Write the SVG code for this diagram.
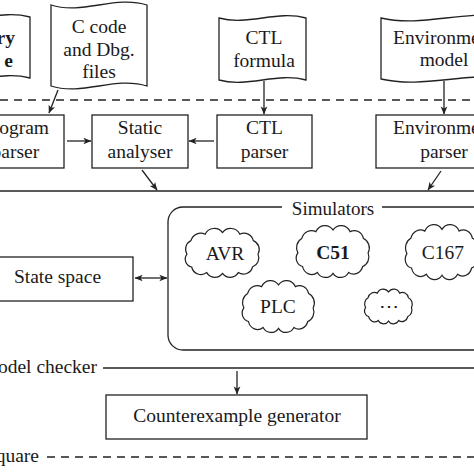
<svg xmlns="http://www.w3.org/2000/svg" width="474" height="474" viewBox="0 0 474 474">
<style>
  .sh{fill:#fff;stroke:#222;stroke-width:1.3}
  .ln{fill:none;stroke:#222;stroke-width:1.3}
  .dash{fill:none;stroke:#222;stroke-width:1.3;stroke-dasharray:8 6}
  .ar{fill:none;stroke:#222;stroke-width:1.3;marker-end:url(#ah)}
  .cl{fill:#fff;stroke:#222;stroke-width:1.2}
  text{font-family:"Liberation Serif","Times New Roman",serif;font-size:19.5px;fill:#1a1a1a;text-anchor:middle}
  .b{font-weight:bold}
</style>
<defs>
  <marker id="ah" viewBox="0 0 10 10" refX="9.5" refY="5" markerWidth="9" markerHeight="8" orient="auto-start-reverse" markerUnits="userSpaceOnUse">
    <path d="M0,0.8 L10,5 L0,9.2 L2.5,5 Z" fill="#222"/>
  </marker>
</defs>
<rect width="474" height="474" fill="#fff"/>

<g id="sections">
  <line class="dash" x1="0" y1="100" x2="474" y2="100"/>
  <line class="ln" x1="0" y1="191" x2="474" y2="191"/>
  <text x="97" y="373" style="text-anchor:end">Model checker</text>
  <line class="ln" x1="103" y1="368" x2="474" y2="368"/>
  <text x="39" y="462" style="text-anchor:end">[mc]square</text>
  <line class="dash" x1="47" y1="457" x2="474" y2="457"/>
</g>

<g id="doc-binary">
  <path class="sh" d="M -60,17 C -30,25 0,9 30,17 L 30,78 C 0,70 -30,86 -60,78 Z"/>
  <text class="b" x="15" y="44" style="text-anchor:end">ry</text>
  <text class="b" x="13" y="67" style="text-anchor:end">e</text>
</g>
<g id="doc-ccode">
  <path class="sh" d="M 51,5 C 83,15 115,-5 147,5 L 147,86 C 115,76 83,96 51,86 Z"/>
  <text x="99" y="33">C code</text>
  <text x="99" y="56">and Dbg.</text>
  <text x="99" y="78">files</text>
</g>
<g id="doc-ctl">
  <path class="sh" d="M 219,18 C 248,26 277,10 306,18 L 306,80 C 277,72 248,88 219,80 Z"/>
  <text x="264" y="44">CTL</text>
  <text x="264" y="67">formula</text>
</g>
<g id="doc-env">
  <path class="sh" d="M 381,18 C 424,28 468,8 511,18 L 511,79 C 468,71 424,89 381,79 Z"/>
  <text x="444" y="44">Environment</text>
  <text x="444" y="66">model</text>
</g>

<g id="program-parser">
  <rect class="sh" x="-33" y="115" width="97" height="53"/>
  <text x="15.4" y="134">Program</text>
  <text x="15.4" y="158">parser</text>
</g>
<g id="static-analyser">
  <rect class="sh" x="92" y="115" width="96" height="53"/>
  <text x="140" y="134">Static</text>
  <text x="140" y="158">analyser</text>
</g>
<g id="ctl-parser">
  <rect class="sh" x="217" y="115" width="95" height="53"/>
  <text x="264.5" y="134">CTL</text>
  <text x="264.5" y="158">parser</text>
</g>
<g id="env-parser">
  <rect class="sh" x="376" y="115" width="136" height="53"/>
  <text x="444" y="134">Environment</text>
  <text x="444" y="158">parser</text>
</g>

<g id="state-space">
  <rect class="sh" x="-18" y="257" width="151" height="44"/>
  <text x="57.5" y="283">State space</text>
</g>

<g id="simulators">
  <path class="ln" d="M 282,207 H 183 A 15,15 0 0 0 168,222 V 335 A 15,15 0 0 0 183,350 H 520"/>
  <path class="ln" d="M 382,207 H 520"/>
  <text x="333" y="215" style="font-size:19px">Simulators</text>
</g>

<g id="cloud-avr">
  <path class="cl" vector-effect="non-scaling-stroke" transform="translate(183,227) scale(0.79,0.8)" d="M5,34 A12,12 0 0 1 10,17 A13,13 0 0 1 28,9 A13,13 0 0 1 50,7 A13,13 0 0 1 72,9 A12,12 0 0 1 89,17 A12,12 0 0 1 95,34 A12,12 0 0 1 88,50 A12,12 0 0 1 70,57 A12,12 0 0 1 50,58 A12,12 0 0 1 30,57 A12,12 0 0 1 11,50 A10,10 0 0 1 5,34 Z"/>
  <text x="225" y="260">AVR</text>
</g>
<g id="cloud-c51">
  <path class="cl" vector-effect="non-scaling-stroke" transform="translate(294,224) scale(0.78,0.85)" d="M5,34 A12,12 0 0 1 10,17 A13,13 0 0 1 28,9 A13,13 0 0 1 50,7 A13,13 0 0 1 72,9 A12,12 0 0 1 89,17 A12,12 0 0 1 95,34 A12,12 0 0 1 88,50 A12,12 0 0 1 70,57 A12,12 0 0 1 50,58 A12,12 0 0 1 30,57 A12,12 0 0 1 11,50 A10,10 0 0 1 5,34 Z"/>
  <text class="b" x="333" y="259">C51</text>
</g>
<g id="cloud-c167">
  <path class="cl" vector-effect="non-scaling-stroke" transform="translate(403,223) scale(0.78,0.9)" d="M5,34 A12,12 0 0 1 10,17 A13,13 0 0 1 28,9 A13,13 0 0 1 50,7 A13,13 0 0 1 72,9 A12,12 0 0 1 89,17 A12,12 0 0 1 95,34 A12,12 0 0 1 88,50 A12,12 0 0 1 70,57 A12,12 0 0 1 50,58 A12,12 0 0 1 30,57 A12,12 0 0 1 11,50 A10,10 0 0 1 5,34 Z"/>
  <text x="443" y="259">C167</text>
</g>
<g id="cloud-plc">
  <path class="cl" vector-effect="non-scaling-stroke" transform="translate(240,279) scale(0.77,0.85)" d="M5,34 A12,12 0 0 1 10,17 A13,13 0 0 1 28,9 A13,13 0 0 1 50,7 A13,13 0 0 1 72,9 A12,12 0 0 1 89,17 A12,12 0 0 1 95,34 A12,12 0 0 1 88,50 A12,12 0 0 1 70,57 A12,12 0 0 1 50,58 A12,12 0 0 1 30,57 A12,12 0 0 1 11,50 A10,10 0 0 1 5,34 Z"/>
  <text x="278" y="313">PLC</text>
</g>
<g id="cloud-more">
  <path class="cl" vector-effect="non-scaling-stroke" transform="translate(363,288) scale(0.51,0.57)" d="M5,34 A12,12 0 0 1 10,17 A13,13 0 0 1 28,9 A13,13 0 0 1 50,7 A13,13 0 0 1 72,9 A12,12 0 0 1 89,17 A12,12 0 0 1 95,34 A12,12 0 0 1 88,50 A12,12 0 0 1 70,57 A12,12 0 0 1 50,58 A12,12 0 0 1 30,57 A12,12 0 0 1 11,50 A10,10 0 0 1 5,34 Z"/>
  <text x="389" y="313">⋯</text>
</g>

<g id="counterexample-generator">
  <rect class="sh" x="106" y="395" width="261" height="44"/>
  <text x="237" y="422">Counterexample generator</text>
</g>

<g id="connectors">
  <line class="ar" x1="58" y1="90" x2="49" y2="113"/>
  <line class="ar" x1="264" y1="81" x2="264" y2="114"/>
  <line class="ar" x1="444" y1="81" x2="444" y2="114"/>
  <line class="ar" x1="67" y1="141" x2="91" y2="141"/>
  <line class="ar" x1="214" y1="141" x2="189" y2="141"/>
  <line class="ar" x1="142" y1="170" x2="157" y2="190"/>
  <line class="ar" x1="441" y1="171" x2="428" y2="190"/>
  <line class="ar" x1="135" y1="278" x2="167" y2="278" style="marker-start:url(#ah)"/>
  <line class="ar" x1="237" y1="371" x2="237" y2="394"/>
</g>
</svg>
